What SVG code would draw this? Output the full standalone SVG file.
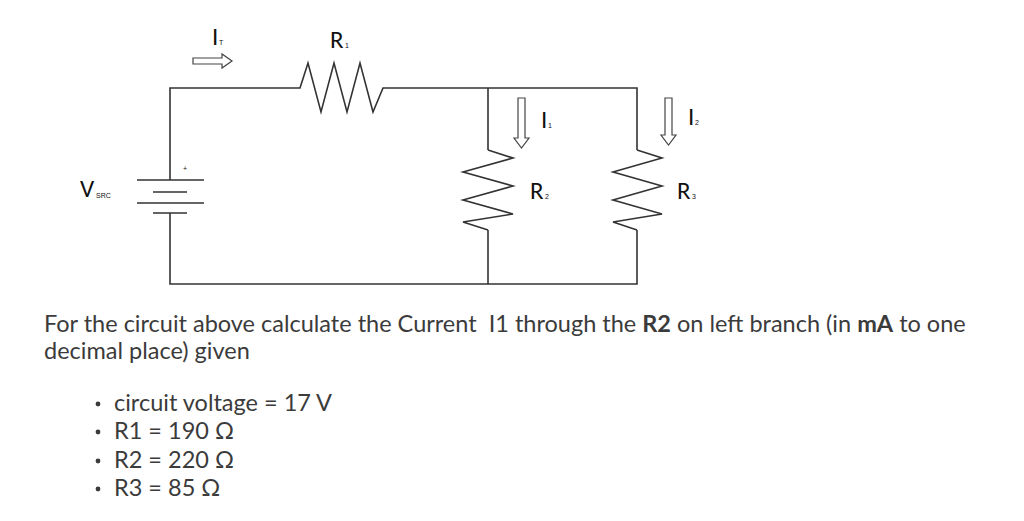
<svg xmlns="http://www.w3.org/2000/svg" width="1024" height="521" viewBox="0 0 1024 521">
<style>
.w{fill:none;stroke:#333;stroke-width:1.6}
.a{fill:#fff;stroke:#444;stroke-width:1.2}
.l{font-family:Calibri,Carlito,"Liberation Sans",sans-serif;fill:#111}
.s{font-family:"Liberation Sans",sans-serif;fill:#111;font-size:7px}
.t{font-family:Lato,"Liberation Sans",sans-serif;fill:#3b3b3b;font-size:23.5px}
</style>
<rect width="1024" height="521" fill="#fff"/>
<g id="connectors">
<path class="w" d="M170 180 V88 H300 L308 63 L321 112 L334 63 L347 112 L360 63 L373 112 L383 88 H637 V150"/>
<path class="w" d="M170 213 V284 H637 V230"/>
<path class="w" d="M488 88 V150"/>
<path class="w" d="M488 230 V284"/>
</g>
<g id="vsrc">
<path class="w" d="M137 180 H204 M153 192 H187 M137 203 H204 M153 213 H187"/>
<text x="183" y="171" class="s" font-size="12px">+</text>
<text x="80" y="197" class="l" font-size="25">V</text>
<text x="96" y="198" class="s">SRC</text>
</g>
<g id="r1">
<text x="330" y="48" class="l" font-size="25">R</text>
<text x="345" y="48" class="s">1</text>
</g>
<g id="it">
<path class="a" d="M193 58 H222 V54 L232 61 L222 68 V64 H193 Z"/>
<text x="212" y="45" class="l" font-size="25">I</text>
<text x="219" y="45" class="s">T</text>
</g>
<g id="r2">
<path class="w" d="M488 150 L513 158 L463 172 L513 186 L463 200 L513 214 L463 222 L488 230"/>
<text x="530" y="199" class="l" font-size="25">R</text>
<text x="545" y="199" class="s">2</text>
</g>
<g id="r3">
<path class="w" d="M637 150 L662 158 L613 172 L662 186 L613 200 L662 214 L613 222 L637 230"/>
<text x="677" y="199" class="l" font-size="25">R</text>
<text x="692" y="199" class="s">3</text>
</g>
<g id="i1">
<path class="a" d="M518 98 H525 V138 H529 L521.5 148 L514 138 H518 Z"/>
<text x="541" y="128" class="l" font-size="25">I</text>
<text x="548" y="128" class="s">1</text>
</g>
<g id="i2">
<path class="a" d="M665 98 H672 V135 H676 L668.5 145 L661 135 H665 Z"/>
<text x="688" y="125" class="l" font-size="25">I</text>
<text x="695" y="125" class="s">2</text>
</g>
<g id="text">
<text x="44" y="332" class="t">For the circuit above calculate the Current &#160;I1 through the <tspan font-weight="bold">R2</tspan> on left branch (in <tspan font-weight="bold">mA</tspan> to one</text>
<text x="44" y="359" class="t">decimal place) given</text>
<g fill="#3b3b3b"><circle cx="98" cy="404" r="2.4"/><circle cx="98" cy="432" r="2.4"/><circle cx="98" cy="461" r="2.4"/><circle cx="98" cy="489" r="2.4"/></g>
<text x="114" y="411" class="t">circuit voltage = 17 V</text>
<text x="114" y="439" class="t">R1 = 190 Ω</text>
<text x="114" y="468" class="t">R2 = 220 Ω</text>
<text x="114" y="496" class="t">R3 = 85 Ω</text>
</g>
</svg>
